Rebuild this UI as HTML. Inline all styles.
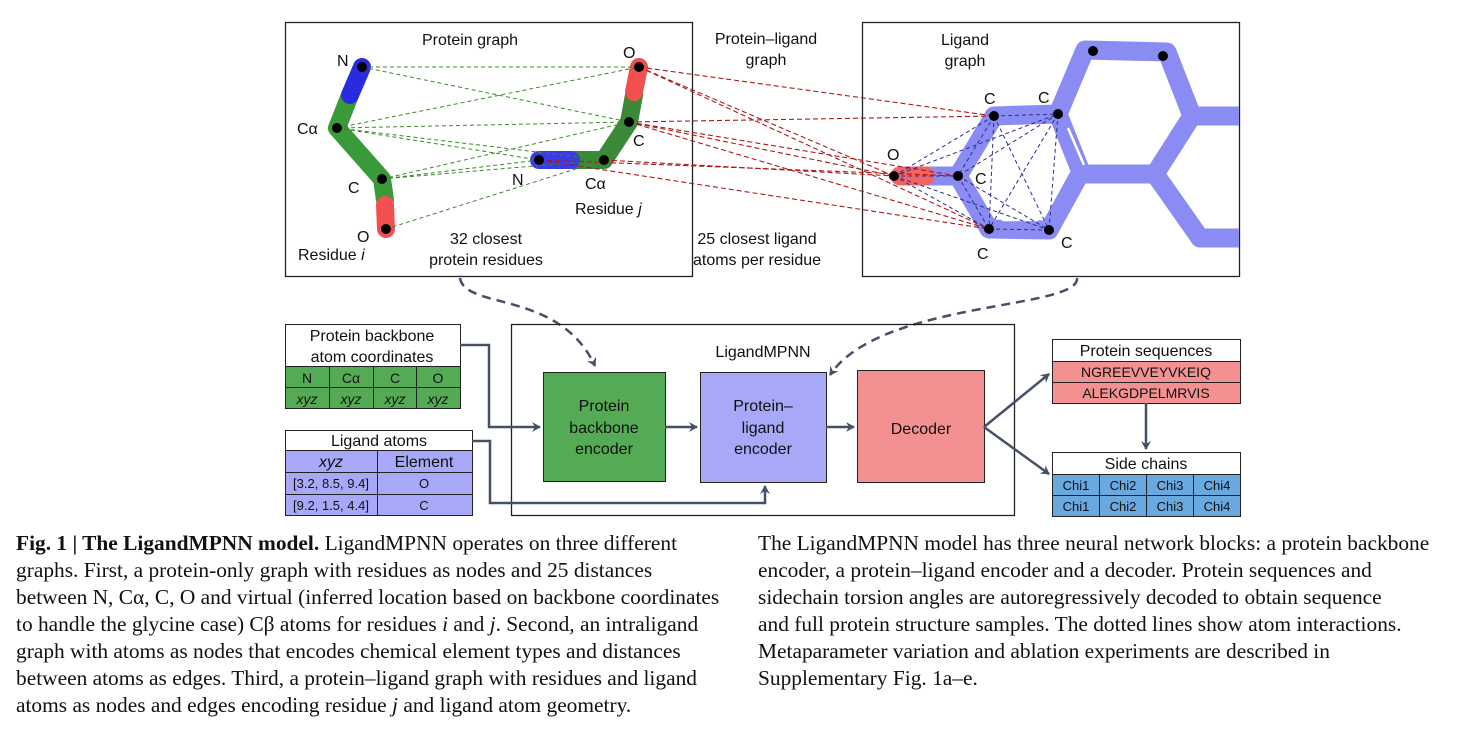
<!DOCTYPE html>
<html><head><meta charset="utf-8"><style>
body{margin:0;background:#fff;width:1476px;height:731px;overflow:hidden;position:relative}
svg{position:absolute;left:0;top:0}
svg text{font-family:"Liberation Sans",sans-serif;fill:#111}
.cap{position:absolute;top:530px;font-family:"Liberation Serif",serif;font-size:21.4px;line-height:27px;color:#111;white-space:nowrap}
</style></head><body>
<svg width="1476" height="731" viewBox="0 0 1476 731">
<defs>
<marker id="ah" markerWidth="10" markerHeight="10" refX="8" refY="5" orient="auto" markerUnits="userSpaceOnUse"><path d="M0,0 L9,5 L0,10 L3,5z" fill="#445066"/></marker>
<clipPath id="lc"><rect x="863" y="23" width="376" height="253"/></clipPath>
</defs>
<rect x="285.5" y="22.5" width="407" height="254" fill="none" stroke="#222" stroke-width="1.3"/>
<rect x="862.5" y="22.5" width="377" height="254" fill="none" stroke="#222" stroke-width="1.3"/>
<g clip-path="url(#lc)">
<g fill="none" stroke="#8a8cf4" stroke-width="19" stroke-linejoin="round" stroke-linecap="round">
<polyline points="994,116 1058,114 1081,172 1049,230 989,229 958,176 994,116"/>
<polyline points="1058,114 1085,50 1167,52 1192,116 1260,116"/>
<polyline points="1192,116 1155,174 1081,174"/>
<polyline points="1155,174 1200,238 1260,238"/>
<line x1="958" y1="176" x2="920" y2="176"/>
</g>
<line x1="900" y1="176" x2="925" y2="176" stroke="#f06464" stroke-width="19" stroke-linecap="round"/>
<g stroke="#fff" stroke-width="2.5"><line x1="1003" y1="131" x2="977" y2="176"/><line x1="1068" y1="128" x2="1084" y2="165"/><line x1="1002" y1="220" x2="1038" y2="220"/></g>
</g>
<g fill="none" stroke-width="18" stroke-linecap="round" stroke-linejoin="round">
<polyline points="350,95 337,128 382,179 385,200" stroke="#3a9a3a"/>
<line x1="362" y1="67" x2="350" y2="95" stroke="#2a2ae0"/>
<line x1="385" y1="205" x2="386" y2="229" stroke="#f05050"/>
<polyline points="571,160 604,160 629,122 634,95" stroke="#3a8a3a"/>
<line x1="539" y1="160" x2="571" y2="160" stroke="#3a3ae8"/>
<line x1="634" y1="92" x2="639" y2="67" stroke="#f05050"/>
</g>
<g stroke="#3a8a2a" stroke-width="1" stroke-dasharray="4,3" fill="none">
<line x1="362" y1="67" x2="639" y2="67"/><line x1="362" y1="67" x2="629" y2="122"/>
<line x1="337" y1="128" x2="639" y2="67"/><line x1="337" y1="128" x2="629" y2="122"/>
<line x1="337" y1="128" x2="604" y2="160"/><line x1="337" y1="128" x2="539" y2="160"/>
<line x1="382" y1="179" x2="629" y2="122"/><line x1="382" y1="179" x2="604" y2="160"/>
<line x1="382" y1="179" x2="539" y2="160"/><line x1="386" y1="229" x2="604" y2="160"/>
</g>
<g stroke="#b01818" stroke-width="1.1" stroke-dasharray="5,3" fill="none">
<line x1="639" y1="67" x2="994" y2="116"/><line x1="639" y1="67" x2="894" y2="176"/><line x1="639" y1="67" x2="989" y2="229"/>
<line x1="629" y1="122" x2="994" y2="116"/><line x1="629" y1="122" x2="894" y2="176"/><line x1="629" y1="122" x2="958" y2="176"/><line x1="629" y1="122" x2="989" y2="229"/>
<line x1="604" y1="160" x2="894" y2="176"/><line x1="539" y1="160" x2="958" y2="176"/><line x1="539" y1="160" x2="989" y2="229"/>
</g>
<g stroke="#2e2e90" stroke-width="1" stroke-dasharray="4,3" fill="none">
<line x1="894" y1="176" x2="994" y2="116"/><line x1="894" y1="176" x2="1058" y2="114"/><line x1="894" y1="176" x2="958" y2="176"/><line x1="894" y1="176" x2="989" y2="229"/><line x1="894" y1="176" x2="1049" y2="230"/>
<line x1="994" y1="116" x2="1058" y2="114"/><line x1="994" y1="116" x2="958" y2="176"/><line x1="994" y1="116" x2="989" y2="229"/><line x1="994" y1="116" x2="1049" y2="230"/>
<line x1="1058" y1="114" x2="958" y2="176"/><line x1="1058" y1="114" x2="989" y2="229"/><line x1="1058" y1="114" x2="1049" y2="230"/>
<line x1="958" y1="176" x2="989" y2="229"/><line x1="958" y1="176" x2="1049" y2="230"/><line x1="989" y1="229" x2="1049" y2="230"/>
</g>
<g fill="#000">
<circle cx="362" cy="67" r="5"/><circle cx="337" cy="128" r="5"/><circle cx="382" cy="179" r="5"/><circle cx="386" cy="229" r="5"/>
<circle cx="639" cy="67" r="5"/><circle cx="629" cy="122" r="5"/><circle cx="604" cy="160" r="5"/><circle cx="539" cy="160" r="5"/>
<circle cx="894" cy="176" r="5"/><circle cx="958" cy="176" r="5"/><circle cx="994" cy="116" r="5"/><circle cx="1058" cy="114" r="5"/>
<circle cx="989" cy="229" r="5"/><circle cx="1049" cy="230" r="5"/><circle cx="1093" cy="51" r="5"/><circle cx="1163" cy="56" r="5"/>
</g>
<g font-size="16">
<text x="470" y="45" text-anchor="middle">Protein graph</text>
<text x="766" y="44" text-anchor="middle">Protein–ligand</text>
<text x="766" y="65" text-anchor="middle">graph</text>
<text x="965" y="45" text-anchor="middle">Ligand</text>
<text x="965" y="66" text-anchor="middle">graph</text>
<text x="337" y="66">N</text><text x="297" y="134">Cα</text><text x="348" y="193">C</text><text x="357" y="242">O</text>
<text x="298" y="260">Residue <tspan font-style="italic">i</tspan></text>
<text x="623" y="58">O</text><text x="633" y="146">C</text><text x="512" y="185">N</text><text x="585" y="189">Cα</text>
<text x="575" y="214">Residue <tspan font-style="italic">j</tspan></text>
<text x="486" y="244" text-anchor="middle">32 closest</text>
<text x="486" y="265" text-anchor="middle">protein residues</text>
<text x="757" y="244" text-anchor="middle">25 closest ligand</text>
<text x="757" y="265" text-anchor="middle">atoms per residue</text>
<text x="887" y="160">O</text><text x="984" y="104">C</text><text x="1038" y="103">C</text><text x="975" y="184">C</text>
<text x="977" y="259">C</text><text x="1061" y="248">C</text>
</g>
<g stroke="#445066" stroke-width="2.5" fill="none" stroke-dasharray="9,6">
<path d="M460,278 C465,310 560,290 595,366" marker-end="url(#ah)"/>
<path d="M1077,278 C1080,310 880,300 830,375" marker-end="url(#ah)"/>
</g>
<rect x="511.5" y="324.5" width="503" height="191" fill="none" stroke="#222" stroke-width="1.3"/>
<text x="763" y="357" font-size="16" text-anchor="middle">LigandMPNN</text>
<rect x="543.5" y="372.5" width="122" height="109" fill="#55aa55" stroke="#222"/>
<rect x="700.5" y="372.5" width="126" height="110" fill="#a7a8f8" stroke="#222"/>
<rect x="857.5" y="370.5" width="127" height="112" fill="#f39192" stroke="#222"/>
<g font-size="16" text-anchor="middle">
<text x="604" y="411">Protein</text><text x="604" y="433">backbone</text><text x="604" y="454">encoder</text>
<text x="763" y="411">Protein–</text><text x="763" y="433">ligand</text><text x="763" y="454">encoder</text>
<text x="921" y="434">Decoder</text>
</g>
<g stroke="#222" stroke-width="1">
<rect x="285.5" y="324.5" width="175" height="42" fill="#fff"/>
<rect x="285.5" y="366.5" width="175" height="42" fill="#55aa55"/>
<line x1="285" y1="387.5" x2="460" y2="387.5"/>
<line x1="329.5" y1="366" x2="329.5" y2="408"/><line x1="373.5" y1="366" x2="373.5" y2="408"/><line x1="416.5" y1="366" x2="416.5" y2="408"/>
<rect x="285.5" y="430.5" width="187" height="20" fill="#fff"/>
<rect x="285.5" y="450.5" width="187" height="65" fill="#a7a8f8"/>
<line x1="285" y1="472.5" x2="472" y2="472.5"/><line x1="285" y1="494.5" x2="472" y2="494.5"/>
<line x1="377.5" y1="450" x2="377.5" y2="515"/>
<rect x="1052.5" y="339.5" width="188" height="22" fill="#fff"/>
<rect x="1052.5" y="361.5" width="188" height="42" fill="#f39192"/>
<line x1="1052" y1="382.5" x2="1240" y2="382.5"/>
<rect x="1052.5" y="452.5" width="188" height="22" fill="#fff"/>
<rect x="1052.5" y="474.5" width="188" height="42" fill="#6aa8e0"/>
<line x1="1052" y1="495.5" x2="1240" y2="495.5"/>
<line x1="1099.5" y1="474" x2="1099.5" y2="516"/><line x1="1146.5" y1="474" x2="1146.5" y2="516"/><line x1="1193.5" y1="474" x2="1193.5" y2="516"/>
</g>
<g font-size="16" text-anchor="middle">
<text x="372" y="341">Protein backbone</text><text x="372" y="362">atom coordinates</text>
<text x="379" y="446">Ligand atoms</text>
<text x="1146" y="356">Protein sequences</text>
<text x="1146" y="469">Side chains</text>
<text x="331" y="467" font-style="italic">xyz</text><text x="424" y="467">Element</text>
</g>
<g font-size="14" text-anchor="middle">
<text x="307" y="383">N</text><text x="351" y="383">Cα</text><text x="395" y="383">C</text><text x="438" y="383">O</text>
<g font-style="italic"><text x="307" y="404">xyz</text><text x="351" y="404">xyz</text><text x="395" y="404">xyz</text><text x="438" y="404">xyz</text></g>
<text x="1146" y="377">NGREEVVEYVKEIQ</text><text x="1146" y="398">ALEKGDPELMRVIS</text>
</g>
<g font-size="13" text-anchor="middle">
<text x="331" y="488">[3.2, 8.5, 9.4]</text><text x="424" y="488">O</text>
<text x="331" y="510">[9.2, 1.5, 4.4]</text><text x="424" y="510">C</text>
<text x="1076" y="490">Chi1</text><text x="1123" y="490">Chi2</text><text x="1170" y="490">Chi3</text><text x="1217" y="490">Chi4</text>
<text x="1076" y="511">Chi1</text><text x="1123" y="511">Chi2</text><text x="1170" y="511">Chi3</text><text x="1217" y="511">Chi4</text>
</g>
<g stroke="#445066" stroke-width="2.5" fill="none">
<polyline points="460,345 489,345 489,427 540,427" marker-end="url(#ah)"/>
<polyline points="472,441 490,441 490,503 765,503 765,486" marker-end="url(#ah)"/>
<line x1="665" y1="427" x2="697" y2="427" marker-end="url(#ah)"/>
<line x1="826" y1="427" x2="854" y2="427" marker-end="url(#ah)"/>
<line x1="984" y1="427" x2="1049" y2="374" marker-end="url(#ah)"/>
<line x1="984" y1="427" x2="1049" y2="474" marker-end="url(#ah)"/>
<line x1="1146" y1="403" x2="1146" y2="449" marker-end="url(#ah)"/>
</g>
</svg>
<div class="cap" style="left:16px"><b>Fig. 1 | The LigandMPNN model.</b> LigandMPNN operates on three different<br>graphs. First, a protein-only graph with residues as nodes and 25 distances<br>between N, Cα, C, O and virtual (inferred location based on backbone coordinates<br>to handle the glycine case) Cβ atoms for residues <i>i</i> and <i>j</i>. Second, an intraligand<br>graph with atoms as nodes that encodes chemical element types and distances<br>between atoms as edges. Third, a protein–ligand graph with residues and ligand<br>atoms as nodes and edges encoding residue <i>j</i> and ligand atom geometry.</div>
<div class="cap" style="left:758px">The LigandMPNN model has three neural network blocks: a protein backbone<br>encoder, a protein–ligand encoder and a decoder. Protein sequences and<br>sidechain torsion angles are autoregressively decoded to obtain sequence<br>and full protein structure samples. The dotted lines show atom interactions.<br>Metaparameter variation and ablation experiments are described in<br>Supplementary Fig. 1a–e.</div>
</body></html>
